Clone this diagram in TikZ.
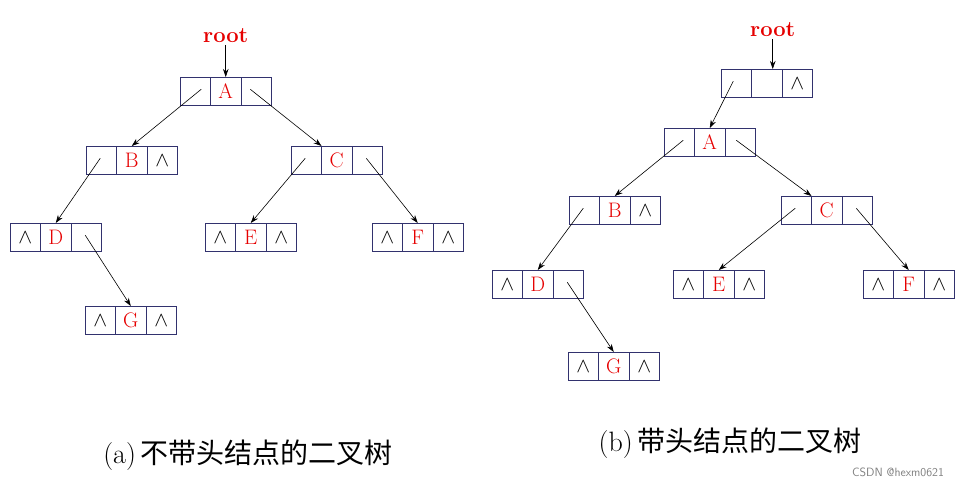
\documentclass[tikz,border=0pt]{standalone}
\usepackage{fontspec}
\newfontfamily\cjk{Noto Sans CJK SC}
\usetikzlibrary{arrows.meta}
\definecolor{boxColor}{RGB}{50,50,110}
\definecolor{textRed}{RGB}{230,0,0}
\tikzset{
  cell/.style={draw=boxColor,line width=0.6pt,minimum width=30.5pt,minimum height=28.5pt,
    inner sep=0pt,outer sep=0pt,font=\fontsize{21}{21}\selectfont},
  link/.style={-{Stealth[length=8pt,width=5.5pt]},line width=0.6pt},
  lbl/.style={text=textRed},
  rootlbl/.style={text=textRed,font=\bfseries\fontsize{22}{22}\selectfont,inner sep=2pt}
}
% three-cell node: name, x, y (top-left), left, middle, right
\newcommand{\trinode}[6]{%
  \node[cell,anchor=north west] (#1-l) at (#2,#3) {#4};
  \node[cell,anchor=west,lbl] (#1-m) at (#1-l.east) {#5};
  \node[cell,anchor=west] (#1-r) at (#1-m.east) {#6};
}
\begin{document}
\begin{tikzpicture}[x=1pt,y=-1pt]
\path[use as bounding box,fill=white] (0,0) rectangle (971,489);
% (a) without head node
\trinode{A}{180}{77}{}{A}{}
\trinode{B}{86}{146}{}{B}{$\wedge$}
\trinode{C}{291}{146}{}{C}{}
\trinode{D}{10}{223}{$\wedge$}{D}{}
\trinode{E}{205}{223}{$\wedge$}{E}{$\wedge$}
\trinode{F}{372}{223}{$\wedge$}{F}{$\wedge$}
\trinode{G}{85}{306}{$\wedge$}{G}{$\wedge$}
\node[rootlbl,anchor=south] (rootA) at ([shift={(0,-32)}]A-m.north) {root};
\draw[link] (rootA.south) -- (A-m.north);
\draw[link] ([shift={(6,-2)}]A-l.center) -- (B-m.north);
\draw[link] ([shift={(-6,-2)}]A-r.center) -- (C-l.north east);
\draw[link] ([shift={(-1,-2)}]B-l.center) -- (D-m.north);
\draw[link] ([shift={(-1,-2)}]D-r.center) -- (G-m.north);
\draw[link] ([shift={(-1,-2)}]C-l.center) -- (E-m.north);
\draw[link] ([shift={(-1,-2)}]C-r.center) -- (F-m.north);
% (b) with head node
\trinode{H}{721}{69}{}{}{$\wedge$}
\trinode{A2}{664}{128}{}{A}{}
\trinode{B2}{569}{196}{}{B}{$\wedge$}
\trinode{C2}{781}{196}{}{C}{}
\trinode{D2}{492}{270}{$\wedge$}{D}{}
\trinode{E2}{673}{270}{$\wedge$}{E}{$\wedge$}
\trinode{F2}{863}{270}{$\wedge$}{F}{$\wedge$}
\trinode{G2}{568}{352}{$\wedge$}{G}{$\wedge$}
\node[rootlbl,anchor=south] (rootB) at ([shift={(6,-30)}]H-m.north) {root};
\draw[link] (rootB.south) -- ([xshift=6pt]H-m.north);
\draw[link] ([shift={(-3,-2)}]H-l.center) -- (A2-m.north);
\draw[link] ([shift={(4,-2)}]A2-l.center) -- (B2-m.north);
\draw[link] ([shift={(-4,-2)}]A2-r.center) -- (C2-l.north east);
\draw[link] ([shift={(-1,-2)}]B2-l.center) -- (D2-m.north);
\draw[link] ([shift={(-1,-2)}]D2-r.center) -- (G2-m.north);
\draw[link] ([shift={(-1,-2)}]C2-l.center) -- (E2-m.north);
\draw[link] ([shift={(-1,-2)}]C2-r.center) -- (F2-m.north);
% captions
\node[font=\fontsize{28}{28}\selectfont] (capA) at (248,455) {(a)\,{\cjk 不带头结点的二叉树}};
\node[font=\fontsize{28}{28}\selectfont] (capB) at (730,443) {(b)\,{\cjk 带头结点的二叉树}};
\node[text=gray,font=\sffamily\fontsize{12}{12}\selectfont] (mark) at (898,472) {CSDN @hexm0621};
\end{tikzpicture}
\end{document}
